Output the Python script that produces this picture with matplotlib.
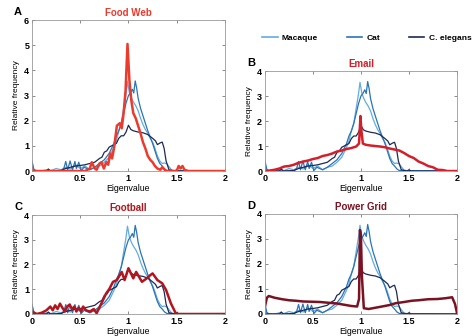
import matplotlib
matplotlib.use('Agg')
import matplotlib.pyplot as plt
from matplotlib.lines import Line2D

plt.rcParams['font.family'] = ['Liberation Sans', 'DejaVu Sans']
plt.rcParams['font.weight'] = 'bold'

# ---- brain network spectra (shared by every panel) ----
macaque_x = [0, 0.01, 0.03, 0.1, 0.15, 0.2, 0.25, 0.3, 0.35, 0.4, 0.45, 0.5, 0.55, 0.6,
             0.65, 0.7, 0.75, 0.8, 0.825, 0.85, 0.875, 0.9, 0.925, 0.95, 0.975, 0.99,
             1.01, 1.03, 1.05, 1.075, 1.1, 1.125, 1.15, 1.175, 1.2, 1.225, 1.25, 1.275,
             1.3, 1.325, 1.35, 1.375, 1.4, 1.425, 1.45, 1.5, 2.0]
macaque_y = [0.35, 0.1, 0, 0, 0.05, 0.02, 0.1, 0.05, 0.15, 0.08, 0.25, 0.1, 0.2, 0.05,
             0.15, 0.2, 0.35, 0.55, 0.75, 0.95, 1.2, 1.6, 1.9, 2.5, 3.1, 3.55,
             3.1, 2.9, 2.75, 2.6, 2.4, 2.1, 1.85, 1.65, 1.5, 1.3, 1.15, 0.9,
             0.6, 0.4, 0.3, 0.32, 0.28, 0.15, 0.03, 0, 0]

cat_x = [0, 0.02, 0.05, 0.3, 0.33, 0.35, 0.37, 0.395, 0.42, 0.445, 0.46, 0.485, 0.51,
         0.54, 0.6, 0.65, 0.7, 0.75, 0.8, 0.825, 0.85, 0.875, 0.9, 0.925, 0.95,
         0.975, 1.0, 1.02, 1.04, 1.055, 1.07, 1.085, 1.1, 1.125, 1.15, 1.175, 1.2,
         1.225, 1.25, 1.275, 1.3, 1.325, 1.35, 1.375, 1.4, 2.0]
cat_y = [0.4, 0.05, 0, 0, 0.1, 0.38, 0.05, 0.4, 0.05, 0.38, 0.1, 0.35, 0.02,
         0.15, 0.05, 0.15, 0.3, 0.45, 0.7, 0.9, 1.1, 1.4, 1.6, 1.9, 2.3,
         2.7, 3.0, 3.1, 3.25, 3.1, 3.58, 3.3, 2.9, 2.5, 2.2, 1.9, 1.6,
         1.35, 1.1, 0.8, 0.5, 0.3, 0.2, 0.08, 0.02, 0]

elegans_x = [0, 0.15, 0.17, 0.19, 0.3, 0.35, 0.4, 0.45, 0.5, 0.55, 0.6, 0.65, 0.7,
             0.725, 0.75, 0.775, 0.8, 0.825, 0.85, 0.875, 0.9, 0.925, 0.95, 0.975,
             1.0, 1.025, 1.05, 1.1, 1.15, 1.2, 1.25, 1.28, 1.3, 1.33, 1.35, 1.37,
             1.39, 1.42, 1.48, 1.5, 1.52, 2.0]
elegans_y = [0, 0, 0.08, 0, 0.02, 0.1, 0.15, 0.2, 0.22, 0.25, 0.3, 0.35, 0.5,
             0.55, 0.75, 0.8, 0.95, 1.0, 1.05, 1.1, 1.3, 1.4, 1.4, 1.55,
             1.82, 1.65, 1.6, 1.55, 1.52, 1.45, 1.3, 1.2, 1.05, 1.12, 1.15, 0.9,
             0.4, 0.05, 0, 0.05, 0, 0]

# ---- comparison networks ----
foodweb_x = [0, 0.02, 0.05, 0.55, 0.6, 0.62, 0.65, 0.67, 0.7, 0.72, 0.745, 0.77, 0.79,
             0.81, 0.83, 0.85, 0.88, 0.91, 0.93, 0.95, 0.97, 0.99, 1.01, 1.03, 1.05,
             1.075, 1.1, 1.125, 1.15, 1.175, 1.2, 1.225, 1.25, 1.275, 1.3, 1.33,
             1.35, 1.39, 1.5, 1.52, 1.54, 1.56, 1.58, 1.62, 2.0]
foodweb_y = [0.12, 0.02, 0, 0, 0.1, 0.35, 0.1, 0.05, 0.3, 0.35, 0.1, 0.35, 0.25,
             0.7, 0.5, 0.9, 1.8, 1.9, 1.7, 2.3, 3.2, 5.05, 3.6, 2.8, 2.3,
             2.1, 1.8, 1.5, 1.15, 0.9, 0.6, 0.45, 0.35, 0.2, 0.1, 0.05,
             0.15, 0, 0, 0.2, 0.1, 0.2, 0.05, 0, 0]

email_x = [0, 0.05, 0.1, 0.15, 0.2, 0.25, 0.3, 0.35, 0.4, 0.45, 0.5, 0.55, 0.6,
           0.65, 0.7, 0.75, 0.8, 0.85, 0.9, 0.95, 0.98, 0.995, 1.005, 1.02, 1.05,
           1.1, 1.15, 1.2, 1.25, 1.3, 1.35, 1.4, 1.45, 1.5, 1.55, 1.6, 1.65,
           1.7, 1.75, 1.8, 1.85, 1.9, 2.0]
email_y = [0, 0.02, 0.05, 0.1, 0.18, 0.2, 0.25, 0.33, 0.38, 0.42, 0.48, 0.52, 0.6,
           0.64, 0.7, 0.78, 0.82, 0.88, 0.92, 0.98, 1.1, 2.2, 1.6, 1.1, 1.05,
           1.02, 1.0, 0.98, 0.95, 0.9, 0.86, 0.82, 0.72, 0.6, 0.52, 0.38, 0.3,
           0.2, 0.15, 0.05, 0.04, 0, 0]

football_x = [0, 0.05, 0.1, 0.15, 0.19, 0.215, 0.24, 0.265, 0.29, 0.315, 0.34, 0.365,
              0.39, 0.415, 0.44, 0.46, 0.485, 0.51, 0.53, 0.56, 0.6, 0.64, 0.67, 0.72,
              0.77, 0.8, 0.84, 0.88, 0.93, 0.96, 1.0, 1.05, 1.08, 1.11, 1.14, 1.19,
              1.22, 1.25, 1.3, 1.35, 1.39, 1.44, 1.49, 1.52, 2.0]
football_y = [0.1, 0, 0.05, 0.15, 0.3, 0.15, 0.35, 0.2, 0.42, 0.25, 0.1, 0.3,
              0.38, 0.2, 0.3, 0.1, 0.25, 0.1, 0.3, 0.15, 0.1, 0.2, 0.03, 0.43,
              0.84, 1.0, 1.3, 1.37, 1.7, 1.37, 1.85, 1.44, 1.7, 1.5, 1.3, 1.44,
              1.55, 1.64, 1.37, 1.24, 0.97, 0.43, 0.03, 0, 0]

powergrid_x = [0, 0.02, 0.04, 0.1, 0.18, 0.25, 0.32, 0.4, 0.49, 0.57, 0.66, 0.75,
               0.84, 0.9, 0.96, 0.98, 0.99, 1.0, 1.01, 1.03, 1.08, 1.15, 1.22, 1.3,
               1.36, 1.45, 1.53, 1.6, 1.7, 1.8, 1.88, 1.95, 1.98, 2.0]
powergrid_y = [0.3, 0.65, 0.72, 0.65, 0.59, 0.55, 0.53, 0.5, 0.49, 0.48, 0.45, 0.42,
               0.36, 0.32, 0.3, 0.6, 3.36, 3.1, 1.5, 0.23, 0.2, 0.25, 0.3, 0.36,
               0.43, 0.48, 0.53, 0.55, 0.59, 0.6, 0.63, 0.67, 0.4, 0.05]

brain_colors = {'Macaque': '#63acdf', 'Cat': '#2b74b4', 'C. elegans': '#1c2a55'}

panels = [
    ('A', 'Food Web', foodweb_x, foodweb_y, '#ec3a2c', 6, [0.0675, 0.491, 0.407, 0.4494]),
    ('B', 'Email', email_x, email_y, '#d41f2a', 4, [0.559, 0.491, 0.405, 0.2976]),
    ('C', 'Football', football_x, football_y, '#b3141d', 4, [0.0675, 0.0655, 0.407, 0.2946]),
    ('D', 'Power Grid', powergrid_x, powergrid_y, '#7a1221', 4, [0.559, 0.0655, 0.405, 0.2976]),
]

fig = plt.figure(figsize=(4.74, 3.36), dpi=100)

for letter, title, nx, ny, ncolor, ymax, rect in panels:
    ax = fig.add_axes(rect)
    ax.plot(macaque_x, macaque_y, color=brain_colors['Macaque'], lw=0.9)
    ax.plot(cat_x, cat_y, color=brain_colors['Cat'], lw=0.9)
    ax.plot(elegans_x, elegans_y, color=brain_colors['C. elegans'], lw=0.9)
    ax.plot(nx, ny, color=ncolor, lw=1.8)

    ax.set_xlim(0, 2)
    ax.set_ylim(0, ymax)
    ax.set_xticks([0, 0.5, 1, 1.5, 2])
    ax.set_xticklabels(['0', '0.5', '1', '1.5', '2'])
    ax.set_yticks(range(ymax + 1))
    ax.tick_params(direction='in', length=2.5, width=0.6, color='#777777',
                   top=True, right=True, labelsize=6.5, pad=2)
    for s in ax.spines.values():
        s.set_color('#999999')
        s.set_linewidth(0.6)
    ax.set_title(title, color=ncolor, fontsize=7, fontweight='bold', pad=3)
    ax.set_xlabel('Eigenvalue', fontsize=6.3, labelpad=1)
    ax.set_ylabel('Relative frequency', fontsize=6, labelpad=3)
    ax.annotate(letter, xy=(0, 1), xycoords='axes fraction', xytext=(-10, 2),
                textcoords='offset points', fontsize=8, fontweight='bold',
                ha='center', va='bottom')

handles = [Line2D([], [], color=c, lw=1.2) for c in brain_colors.values()]
fig.legend(handles, list(brain_colors.keys()), loc='center left',
           bbox_to_anchor=(262 / 474, 1 - 38 / 336), ncol=3, frameon=False,
           borderaxespad=0, borderpad=0, fontsize=6, handlelength=1.9,
           handletextpad=0.5, columnspacing=3.4)

fig.savefig('out.png', dpi=100)
